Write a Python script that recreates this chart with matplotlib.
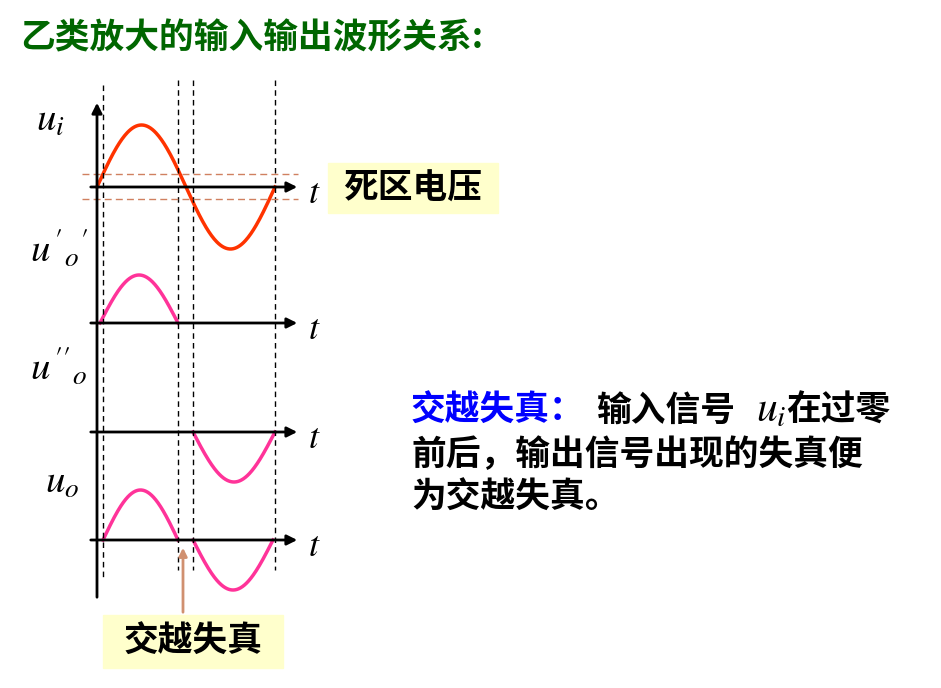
import numpy as np
import matplotlib
matplotlib.use("Agg")
import matplotlib.pyplot as plt
plt.rcParams['font.family'] = ['Noto Sans CJK SC', 'DejaVu Sans']
plt.rcParams['mathtext.fontset'] = 'stix'

title = "乙类放大的输入输出波形关系:"
box1 = "死区电压"
box2 = "交越失真"
desc_head = "交越失真："
rows = [
    (187, 62, [(97, 275, 'full')], '#ff3300'),
    (323, 48, [(100, 178, 1)], '#ff3399'),
    (432, 50, [(193, 275, -1)], '#ff3399'),
    (540, 50, [(103, 178, 1), (193, 273, -1)], '#ff3399'),
]
FS = 25

fig = plt.figure(figsize=(9.41, 6.88), dpi=100)
ax = fig.add_axes([0, 0, 1, 1])
ax.set_xlim(0, 941); ax.set_ylim(688, 0); ax.axis('off')

ax.text(20, 38, title, color='#006600', fontsize=FS, fontweight='bold', va='center')

ax.annotate('', xy=(97, 100), xytext=(97, 600),
            arrowprops=dict(arrowstyle='-|>', color='black', lw=2, mutation_scale=15))
for y, amp, segs, c in rows:
    ax.annotate('', xy=(300, y), xytext=(88, y),
                arrowprops=dict(arrowstyle='-|>', color='black', lw=2, mutation_scale=15))
    ax.text(308, y + 6, r'$t$', fontsize=26, va='center')
    for x0, x1, s in segs:
        x = np.linspace(x0, x1, 200)
        if s == 'full':
            yy = y - amp * np.sin(2 * np.pi * (x - x0) / (x1 - x0))
        else:
            yy = y - s * amp * np.sin(np.pi * (x - x0) / (x1 - x0))
        ax.plot(x, yy, color=c, lw=2.5)

for x, y0, y1 in [(103, 85, 580), (178, 80, 570), (193, 80, 570), (275, 80, 570)]:
    ax.plot([x, x], [y0, y1], 'k--', lw=1, dashes=(4, 3))
for y in [174, 199]:
    ax.plot([82, 298], [y, y], color='#d08060', lw=1, dashes=(5, 3))

ax.text(36, 120, r'$u_i$', fontsize=28, va='center')
ax.text(30, 250, r"$u\,{}^{\prime}{}_{o}{}^{\prime}$", fontsize=28, va='center')
ax.text(30, 368, r"$u\,''{}_o$", fontsize=28, va='center')
ax.text(45, 482, r'$u_o$', fontsize=28, va='center')

ax.add_patch(plt.Rectangle((328, 163), 170, 50, color='#ffffcc'))
ax.text(413, 188, box1, fontsize=FS, fontweight='bold', va='center', ha='center')
ax.add_patch(plt.Rectangle((103, 615), 180, 53, color='#ffffcc'))
ax.text(193, 641, box2, fontsize=FS, fontweight='bold', va='center', ha='center')
ax.annotate('', xy=(183, 545), xytext=(183, 615),
            arrowprops=dict(arrowstyle='-|>', color='#d09070', lw=2, mutation_scale=12))

ax.text(411, 410, desc_head, color='#0000ff', fontsize=FS, fontweight='bold', va='center')
ax.text(597, 410, "输入信号", fontsize=FS, fontweight='bold', va='center')
ax.text(756, 410, r'$u_i$', fontsize=30, va='center')
ax.text(786, 410, "在过零", fontsize=FS, fontweight='bold', va='center')
ax.text(411, 455, "前后，输出信号出现的失真便", fontsize=FS, fontweight='bold', va='center')
ax.text(411, 497, "为交越失真。", fontsize=FS, fontweight='bold', va='center')

fig.savefig('out.png', dpi=100)
